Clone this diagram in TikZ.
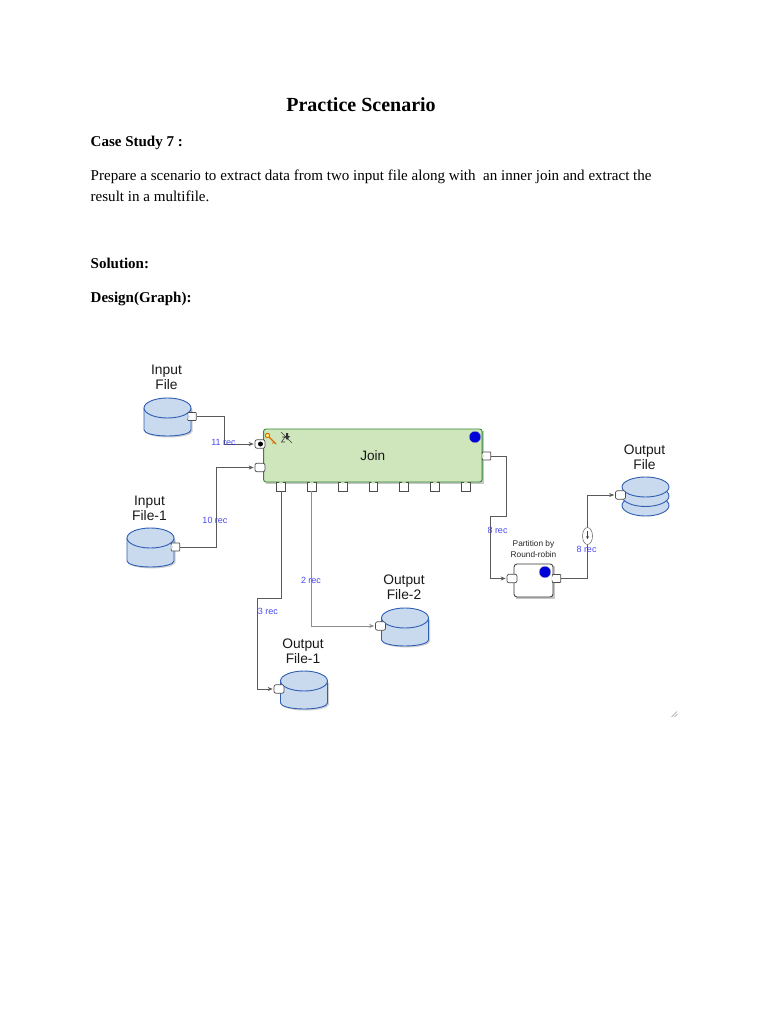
\documentclass[tikz,border=0pt]{standalone}
\usepackage{fontspec}
\setmainfont{Liberation Serif}
\newfontfamily\lsans{Liberation Sans}
\usetikzlibrary{arrows.meta,shapes.geometric}
\definecolor{cylfill}{HTML}{C9D9EE}
\definecolor{cylline}{HTML}{2F5FB5}
\definecolor{joinfill}{HTML}{CFE6BC}
\definecolor{joinline}{HTML}{2F8A35}
\definecolor{recblue}{HTML}{2A2AF0}
\definecolor{wirecol}{HTML}{5A5A5A}
\tikzset{
  x=1pt,y=-1pt,
  title/.style={font=\fontsize{20}{24}\selectfont\bfseries,anchor=base,inner sep=0},
  head/.style={font=\fontsize{15}{18}\selectfont\bfseries,anchor=base west,inner sep=0},
  body/.style={font=\fontsize{15.05}{18}\selectfont,anchor=base west,inner sep=0},
  lab/.style={font=\lsans\fontsize{13.8}{15}\selectfont,align=center,text=black!90,inner sep=0},
  small/.style={font=\lsans\fontsize{8.3}{10.5}\selectfont,align=center,text=black!85,inner sep=0},
  rec/.style={font=\lsans\fontsize{9}{10}\selectfont,text=recblue,inner sep=0,opacity=.85},
  port/.style={draw=black!70,fill=white,line width=.7pt,minimum width=8.5pt,minimum height=8pt,inner sep=0,rounded corners=.6pt},
  iport/.style={draw=black!70,fill=white,line width=.7pt,minimum width=10pt,minimum height=8.5pt,inner sep=0,rounded corners=2pt},
  vport/.style={draw=black!70,fill=white,line width=.7pt,minimum width=8.5pt,minimum height=9pt,inner sep=0},
  notch/.style={fill=#1},
  wire/.style={draw=wirecol,line width=.7pt},
  wirelt/.style={draw=black!45,line width=.7pt},
  arr/.style={-{Stealth[length=5pt,width=4pt]},shorten >=1pt},
  joinbox/.style={draw=joinline,fill=joinfill,line width=.9pt,rounded corners=2.5pt,minimum width=218.5pt,minimum height=53pt,inner sep=0,font=\lsans\fontsize{13.6}{15}\selectfont,text=black!90},
  partbox/.style={draw=black!80,fill=white,line width=.8pt,rounded corners=3pt,minimum width=39pt,minimum height=33pt,inner sep=0},
  bluedot/.style={circle,fill=blue!85!black,draw=black!30,line width=.3pt,minimum size=11.5pt,inner sep=0},
  watcher/.style={ellipse,draw=black!55,fill=white,line width=.6pt,minimum width=10pt,minimum height=17pt,inner sep=0},
  cylshape/.style={fill=cylfill,draw=cylline,line width=.9pt},
}
% \cylinderat{cx}{top}{bottom}
\newcommand{\cylinderat}[3]{%
  \fill[black!18] (#1-23.5+1.5,#2+10+1.5) -- (#1-23.5+1.5,#3-6+1.5) arc[start angle=180,end angle=0,x radius=23.5,y radius=6] -- (#1+23.5+1.5,#2+10+1.5) -- cycle;
  \path[cylshape] (#1-23.5,#2+10) -- (#1-23.5,#3-6) arc[start angle=180,end angle=0,x radius=23.5,y radius=6] -- (#1+23.5,#2+10);
  \path[cylshape] (#1,#2+10) ellipse[x radius=23.5,y radius=10];
}
\begin{document}
\begin{tikzpicture}
\useasboundingbox (0,0) rectangle (768,1024);
\fill[white] (0,0) rectangle (768,1024);
% page text
\node[title] (ttl) at (361,112) {Practice Scenario};
\node[head] (cs) at (90.5,147) {Case Study 7 :};
\node[body] (p1) at (90.5,181) {Prepare a scenario to extract data from two input file along with\ \ an inner join and extract the};
\node[body] (p2) at (90.5,202) {result in a multifile.};
\node[head] (sol) at (90.5,268) {Solution:};
\node[head] (des) at (90.5,302) {Design(Graph):};
% cylinders
\cylinderat{167.5}{398}{436}
\cylinderat{150.5}{528}{567}
\cylinderat{304}{671}{709}
\cylinderat{405}{608}{646}
% output file stacked
\path[cylshape] (645.5,505.5) ellipse[x radius=23.5,y radius=10.5];
\path[cylshape] (645.5,496) ellipse[x radius=23.5,y radius=10.5];
\path[cylshape] (645.5,487) ellipse[x radius=23.5,y radius=10];
% labels
\node[lab] (lInA) at (166.5,377.5) {Input\\File};
\node[lab] (lInB) at (149.5,508) {Input\\File-1};
\node[lab] (lOutA) at (303,651) {Output\\File-1};
\node[lab] (lOutB) at (404,587.5) {Output\\File-2};
\node[lab] (lOutC) at (644.5,457.5) {Output\\File};
\node[small] (lPart) at (533.5,549) {Partition by\\Round-robin};
% join
\fill[black!22] (265.5,431) rectangle (484,484);
\node[joinbox] (join) at (372.8,455.5) {Join};
\node[bluedot] (jdot) at (475,437) {};
% partition
\fill[black!22] (516,566) rectangle (555,599);
\node[partbox] (part) at (533.5,580.5) {};
\node[bluedot] (pdot) at (545,572) {};
% ports
\node[port] (pInA) at (192,416.5) {};
\node[port] (pInB) at (175.5,547) {};
\node[iport] (jIn1) at (260,444) {};
\node[circle,fill=black,minimum size=5pt,inner sep=0] (jInDot) at (260.5,444) {};
\node[iport] (jIn2) at (260,467.5) {};
\foreach \n/\x in {a/281,b/311.7,c/342.7,d/373.3,e/404,f/435,g/465.7}{
  \node[vport] (jB\n) at (\x,486.5) {};
  \fill[joinfill] ([xshift=-2.5pt]jB\n.north) -- ([xshift=2.5pt]jB\n.north) -- ([yshift=-2.5pt]jB\n.north) -- cycle;
}
\node[port] (jOut) at (486.5,456) {};
\fill[joinfill] ([yshift=2.5pt]jOut.west) -- ([yshift=-2.5pt]jOut.west) -- ([xshift=2.5pt]jOut.west) -- cycle;
\node[iport] (pIn) at (512,578.5) {};
\node[port] (pOut) at (556.5,578.5) {};
\fill[white] ([yshift=2.5pt]pOut.west) -- ([yshift=-2.5pt]pOut.west) -- ([xshift=2.5pt]pOut.west) -- cycle;
\fill[cylfill] ([yshift=2.5pt]pInA.west) -- ([yshift=-2.5pt]pInA.west) -- ([xshift=2.5pt]pInA.west) -- cycle;
\fill[cylfill] ([yshift=2.5pt]pInB.west) -- ([yshift=-2.5pt]pInB.west) -- ([xshift=2.5pt]pInB.west) -- cycle;
\node[iport] (oCin) at (620.5,495) {};
\node[iport] (oAin) at (279,689) {};
\node[iport] (oBin) at (380.5,626) {};
% connectors
\draw[wire,arr] (pInA.east) -| (224.5,444) -- (jIn1.west);
\draw[wire,arr] (pInB.east) -| (216.5,467.5) -- (jIn2.west);
\draw[wire,arr] (jBa.south) -- (281,598.5) -| (257.5,689) -- (oAin.west);
\draw[wirelt,arr] (jBb.south) |- (oBin.west);
\draw[wire,arr] (jOut.east) -| (506.5,516.5) -| (490,578.5) -- (pIn.west);
\draw[wire,arr] (pOut.east) -| (587.5,495) -- (oCin.west);
% watcher
\node[watcher] (wt) at (587.5,536) {};
\draw[black!75,line width=.6pt,-{Stealth[length=3pt,width=3pt]}] (wt.north) ++(0,4) -- ++(0,8);
% rec labels
\node[rec] (r1) at (223.5,442.5) {11 rec};
\node[rec] (r2) at (215,520) {10 rec};
\node[rec] (r3) at (497.5,530) {8 rec};
\node[rec] (r4) at (586.5,549.5) {8 rec};
\node[rec] (r5) at (311,580) {2 rec};
\node[rec] (r6) at (268,611) {3 rec};
% key icon
\draw[orange!85!black,line width=1.3pt,line cap=round] (268,436) -- (276,444);
\draw[orange!85!black,line width=1pt,fill=yellow!50] (267.5,435.5) circle[radius=2.2];
\draw[orange!85!black,line width=.8pt] (274,442) -- (272.5,443.5);
% mute icon
\draw[black!75,line width=.6pt] (281,432) -- (292,443);
\draw[black!75,line width=.6pt] (282,437) -- (285,437) -- (281.5,442) -- (285,442);
\fill[black!80] (286,433) -- (288,433) -- (288,436) -- (290,436) -- (287,440) -- (284.5,436) -- (286,436) -- cycle;
% resize handle
\draw[black!40,line width=.5pt] (671.5,717) -- (677,711.5) (674.5,717) -- (677.5,714);
\end{tikzpicture}
\end{document}
